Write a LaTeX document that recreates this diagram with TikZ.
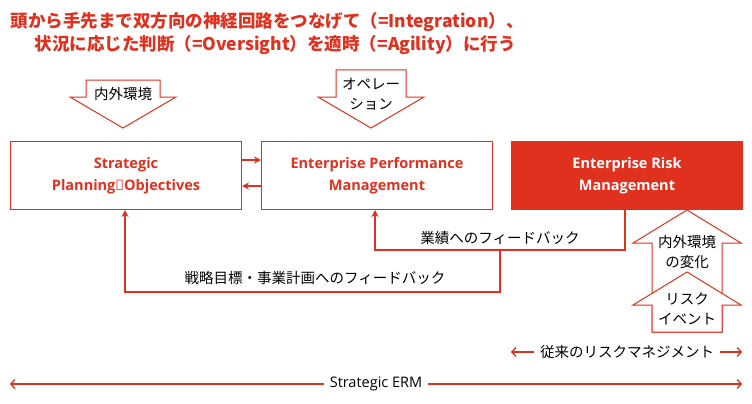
\documentclass[tikz,border=0pt]{standalone}
\usepackage{fontspec}
\setmainfont{Noto Sans CJK JP}
\newfontfamily\latinf{Open Sans}
\usetikzlibrary{arrows.meta}
\definecolor{ered}{HTML}{E0301E}
\begin{document}
\begin{tikzpicture}[x=1pt,y=-1pt,
  box/.style={draw=ered,line width=1pt,minimum width=231pt,minimum height=68pt,anchor=north west,align=center,font=\latinf\fontsize{14.5}{22}\selectfont\bfseries,text=ered},
  fb/.style={draw=ered,line width=1.2pt,-{Stealth[length=7pt,width=7pt]}},
  lbl/.style={font=\fontsize{14.5}{18}\selectfont,align=center},
  outline/.style={draw=ered,line width=1pt,fill=white}]
\useasboundingbox (0,0) rectangle (752,404);
\node[anchor=west,text=ered,font=\fontsize{17.5}{20}\selectfont\bfseries] (t1) at (7,22) {頭から手先まで双方向の神経回路をつなげて（=Integration）、};
\node[anchor=west,text=ered,font=\fontsize{17.5}{20}\selectfont\bfseries] (t2) at (31,45) {状況に応じた判断（=Oversight）を適時（=Agility）に行う};
% down arrows
\draw[outline] (86,80) -- (160,80) -- (160,97) -- (176,97) -- (123,128) -- (70,97) -- (86,97) -- cycle;
\node[lbl] (d1) at (123,94) {内外環境};
\draw[outline] (336,70) -- (406,70) -- (406,97) -- (424,97) -- (371,128) -- (318,97) -- (336,97) -- cycle;
\node[lbl,font=\fontsize{14.5}{20}\selectfont] (d2) at (371,94) {オペレー\\ション};
% boxes
\node[box] (b1) at (10,141) {Strategic\\Planning／Objectives};
\node[box] (b2) at (261,141) {Enterprise Performance\\Management};
\node[box,fill=ered,text=white] (b3) at (511,141) {Enterprise Risk\\Management};
\draw[fb] (b1.east|-0,160) -- (b2.west|-0,160);
\draw[fb] (b2.west|-0,186) -- (b1.east|-0,186);
% feedback
\coordinate (f1) at (625,250);
\coordinate (f2) at (375,250);
\draw[fb] (b3.south-|f1) -- (f1) -- (f2) -- (b2.south-|f2);
\node[lbl] (l1) at (500,238) {業績へのフィードバック};
\coordinate (g0) at (500,250);
\coordinate (g1) at (500,292);
\coordinate (g2) at (125,292);
\draw[fb] (g0) -- (g1) -- (g2) -- (b1.south-|g2);
\node[lbl] (l2) at (315,278) {戦略目標・事業計画へのフィードバック};
% up arrows
\draw[outline] (652,332) -- (652,243) -- (633,243) -- (687,210) -- (741,243) -- (722,243) -- (722,332) -- cycle;
\node[lbl,font=\fontsize{14.5}{20}\selectfont] (u1) at (687,252) {内外環境\\の変化};
\draw[outline] (652,332) -- (652,305) -- (633,305) -- (687,272) -- (741,305) -- (722,305) -- (722,332) -- cycle;
\node[lbl,font=\fontsize{14.5}{20}\selectfont] (u2) at (687,309) {リスク\\イベント};
% ranges
\node[lbl,inner xsep=2pt] (r1) at (627,352) {従来のリスクマネジメント};
\draw[draw=ered,line width=1.3pt,-{Straight Barb[length=4pt,width=9pt]}] (r1.west) ++(-4,0) -- (511,352);
\draw[draw=ered,line width=1.3pt,-{Straight Barb[length=4pt,width=9pt]}] (r1.east) ++(4,0) -- (742,352);
\coordinate (s0) at (10,384);
\coordinate (s1) at (742,384);
\draw[draw=ered,line width=1.3pt,{Straight Barb[length=4pt,width=9pt]}-{Straight Barb[length=4pt,width=9pt]}] (s0) -- (s1);
\node[lbl,fill=white,inner xsep=6pt,font=\latinf\fontsize{14.5}{18}\selectfont] (se) at (376,384) {Strategic ERM};
\end{tikzpicture}
\end{document}
